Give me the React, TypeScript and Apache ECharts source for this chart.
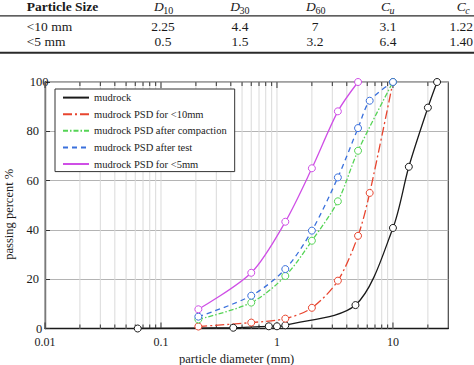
import React, { useEffect, useRef } from "react";
import * as echarts from "echarts";

const FONT = "Liberation Serif";

// Chart series (particle diameter in mm, passing percent %)
const mudrockX = [0.063, 0.42, 0.85, 1.0, 1.18, 4.75, 10, 13.7, 20, 24];
const mudrockY = [0, 0.3, 0.9, 0.9, 1.3, 9.5, 40.8, 65.6, 89.6, 100];
const psd10X = [0.21, 0.6, 1.18, 2, 3.35, 5, 6.3, 10];
const psd10Y = [0.8, 2.4, 4.0, 8.4, 19.4, 37.6, 55, 100];
const compactX = [0.21, 0.6, 1.18, 2, 3.35, 5, 10];
const compactY = [3.7, 10.5, 21.3, 35.6, 51.6, 72.1, 100];
const testX = [0.21, 0.6, 1.18, 2, 3.35, 5, 6.3, 10];
const testY = [4.8, 13.3, 24.1, 39.7, 61.3, 81.3, 92.4, 100];
const psd5X = [0.21, 0.6, 1.18, 2, 3.35, 5];
const psd5Y = [7.8, 22.6, 43.3, 65, 88.1, 100];

const seriesNames = [
  "mudrock",
  "mudrock PSD for <10mm",
  "mudrock PSD after compaction",
  "mudrock PSD after test",
  "mudrock PSD for <5mm",
];

// Table
const tableRowLabels = ["<10 mm", "<5 mm"];
const tableRow1 = ["2.25", "4.4", "7", "3.1", "1.22"];
const tableRow2 = ["0.5", "1.5", "3.2", "6.4", "1.40"];

// Axis ticks (log axis decades and sub-decade ticks)
const decades = [0.01, 0.1, 1, 10];
const subSteps = [1, 2, 3, 4, 5, 6, 7, 8, 9];
const xMin = 0.01;
const xMax = 30;

const tickValues: number[][] = [];
decades.forEach((d) =>
  subSteps.forEach((s) => {
    const v = +(d * s).toPrecision(6);
    if (v < xMax) tickValues.push([v, s === 1 ? 1 : 0]);
  })
);

const zip = (xs: number[], ys: number[]) => xs.map((x, i) => [x, ys[i]]);

export default function App() {
  const ref = useRef<HTMLDivElement>(null);

  useEffect(() => {
    if (!ref.current) return;
    const chart = echarts.init(ref.current, undefined, { renderer: "svg" });

    const lineSeries = (
      name: string,
      data: number[][],
      color: string,
      type: any
    ) => ({
      name,
      type: "line",
      data,
      smooth: 0.3,
      color,
      symbol: "circle",
      symbolSize: 7,
      z: 3,
      lineStyle: { color, width: 1.3, type },
      itemStyle: { color: "#fff", borderColor: color, borderWidth: 1 },
    });

    const txt = (
      text: string,
      x: number,
      y: number,
      opts: { size?: number; style?: string; weight?: string; align?: string } = {}
    ) => ({
      type: "text",
      x: 0,
      y: 0,
      z: 10,
      style: {
        text,
        x,
        y,
        fill: "#1a1a1a",
        fontSize: opts.size || 13.5,
        fontFamily: FONT,
        fontStyle: opts.style || "normal",
        fontWeight: opts.weight || "normal",
        textAlign: opts.align || "left",
        align: opts.align || "left",
        textVerticalAlign: "middle",
        verticalAlign: "middle",
      },
    });

    const colCenters = [163, 240, 315, 388];
    const hy = 6.8;
    const sy = 10.2;
    const graphics: any[] = [
      txt("Particle Size", 26.7, hy, { weight: "bold" }),
      txt("D", 154, hy, { style: "italic" }),
      txt("10", 163.3, sy, { size: 10 }),
      txt("D", 230.2, hy, { style: "italic" }),
      txt("30", 239.6, sy, { size: 10 }),
      txt("D", 306, hy, { style: "italic" }),
      txt("60", 315.5, sy, { size: 10 }),
      txt("C", 381, hy, { style: "italic" }),
      txt("u", 389.5, sy, { size: 10, style: "italic" }),
      txt("C", 456.7, hy, { style: "italic" }),
      txt("c", 465.2, sy, { size: 10, style: "italic" }),
      txt(tableRowLabels[0], 26.7, 26.4),
      txt(tableRowLabels[1], 26.7, 41.9),
      {
        type: "line",
        z: 10,
        shape: { x1: 0, y1: 15.8, x2: 474, y2: 15.8 },
        style: { stroke: "#2a2a2a", lineWidth: 1.3 },
      },
      {
        type: "line",
        z: 10,
        shape: { x1: 0, y1: 52.8, x2: 474, y2: 52.8 },
        style: { stroke: "#2a2a2a", lineWidth: 2 },
      },
    ];
    [tableRow1, tableRow2].forEach((row, r) => {
      const y = r === 0 ? 26.4 : 41.9;
      row.forEach((v, i) => {
        if (i < 4) graphics.push(txt(v, colCenters[i], y, { align: "center" }));
        else graphics.push(txt(v, 473, y, { align: "right" }));
      });
    });

    chart.setOption({
      animation: false,
      backgroundColor: "#fff",
      textStyle: { fontFamily: FONT },
      graphic: graphics,
      grid: {
        left: 45,
        top: 82,
        right: 25.7,
        bottom: 36.5,
        show: true,
        borderColor: "#444",
        borderWidth: 1.2,
        backgroundColor: "transparent",
        outerBoundsMode: "none",
        containLabel: false,
      },
      legend: {
        orient: "vertical",
        left: 55,
        top: 89,
        data: seriesNames,
        itemWidth: 26,
        itemHeight: 14,
        itemGap: 3.4,
        padding: [2, 8, 1, 7],
        backgroundColor: "#fff",
        borderColor: "#333",
        borderWidth: 1,
        selectedMode: false,
        textStyle: { fontFamily: FONT, fontSize: 10.5, color: "#222" },
        itemStyle: { opacity: 0 },
      },
      xAxis: {
        type: "log",
        logBase: 10,
        min: xMin,
        max: xMax,
        name: "particle diameter (mm)",
        nameLocation: "middle",
        nameGap: 24,
        nameTextStyle: {
          fontFamily: FONT,
          fontSize: 12.5,
          color: "#1a1a1a",
          padding: [0, 20, 0, 0],
        },
        axisLine: { show: true, lineStyle: { color: "#1a1a1a", width: 1.3 } },
        axisTick: { show: false },
        splitLine: { show: false },
        axisLabel: {
          fontFamily: FONT,
          fontSize: 12,
          color: "#1a1a1a",
          margin: 7,
          showMaxLabel: false,
          alignMinLabel: "center",
          alignMaxLabel: "center",
          formatter: (v: number) => String(+(+v).toPrecision(6)),
        },
      },
      yAxis: {
        type: "value",
        min: 0,
        max: 100,
        interval: 20,
        name: "passing percent %",
        nameLocation: "middle",
        nameGap: 28,
        nameRotate: 90,
        nameTextStyle: {
          fontFamily: FONT,
          fontSize: 12.5,
          color: "#1a1a1a",
          padding: [0, 18, 0, 0],
        },
        axisLine: { show: true, lineStyle: { color: "#1a1a1a", width: 1.3 } },
        axisTick: { show: true, inside: true, length: 5, lineStyle: { color: "#333" } },
        splitLine: { show: true, lineStyle: { color: "#b4b4b4", width: 1 } },
        axisLabel: {
          fontFamily: FONT,
          fontSize: 12.5,
          color: "#1a1a1a",
          margin: 6,
          alignMinLabel: "center",
          alignMaxLabel: "center",
        },
      },
      series: [
        {
          name: "ticks",
          type: "custom",
          z: 1,
          silent: true,
          data: tickValues,
          encode: { x: 0 },
          renderItem: (_p: any, api: any) => {
            const x = api.value(0);
            const major = api.value(1) === 1;
            const b = api.coord([x, 0]);
            const t = api.coord([x, 100]);
            const len = major ? 6 : 4;
            return {
              type: "group",
              children: [
                {
                  type: "line",
                  shape: { x1: b[0], y1: b[1], x2: t[0], y2: t[1] },
                  style: { stroke: "#dadada", lineWidth: 1 },
                },
                {
                  type: "line",
                  shape: { x1: b[0], y1: b[1], x2: b[0], y2: b[1] - len },
                  style: { stroke: "#333", lineWidth: 1 },
                },
                {
                  type: "line",
                  shape: { x1: t[0], y1: t[1], x2: t[0], y2: t[1] + len },
                  style: { stroke: "#333", lineWidth: 1 },
                },
              ],
            };
          },
        },
        lineSeries(seriesNames[0], zip(mudrockX, mudrockY), "#1a1a1a", "solid"),
        lineSeries(seriesNames[1], zip(psd10X, psd10Y), "#e8452f", [9, 3, 2, 3]),
        lineSeries(seriesNames[2], zip(compactX, compactY), "#55d455", [5, 2, 1.5, 2]),
        lineSeries(seriesNames[3], zip(testX, testY), "#3a70dc", [5, 4]),
        lineSeries(seriesNames[4], zip(psd5X, psd5Y), "#cf4fe6", "solid"),
      ],
    });

    return () => chart.dispose();
  }, []);

  return (
    <div
      ref={ref}
      style={{ position: "absolute", left: 0, top: 0, width: 474, height: 365 }}
    />
  );
}
